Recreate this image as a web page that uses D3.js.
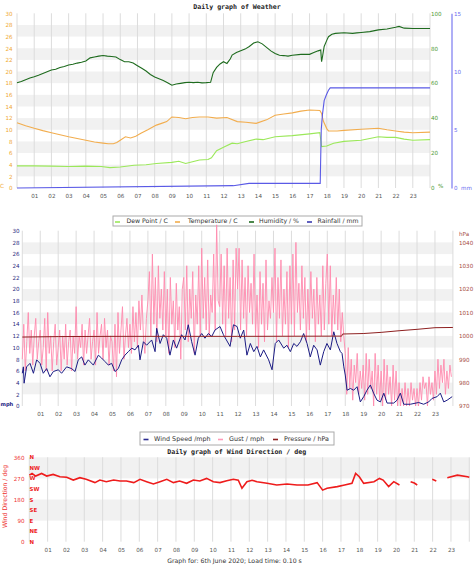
<!DOCTYPE html>
<html><head><meta charset="utf-8">
<script src="https://cdn.jsdelivr.net/npm/d3@7"></script>
<style>body{margin:0;background:#fff}svg{display:block}</style>
</head><body><svg width="474" height="567"></svg>
<script>
// ---------- data ----------
const hourTicks = [1,2,3,4,5,6,7,8,9,10,11,12,13,14,15,16,17,18,19,20,21,22,23];
const hourLabels = ["01","02","03","04","05","06","07","08","09","10","11","12","13","14","15","16","17","18","19","20","21","22","23"];

// Chart 1: weather
const tempTicks = [0,2,4,6,8,10,12,14,16,18,20,22,24,26,28,30];
const humTicks = [0,20,40,60,80,100];
const rainTicks = [0,5,10,15];
const bands30 = [[2,4],[6,8],[10,12],[14,16],[18,20],[22,24],[26,28]];

const humT = [0,0.25,0.5,0.75,1,1.25,1.5,1.75,2,2.25,2.5,2.75,3,3.25,3.5,3.75,4,4.25,4.5,4.75,5,5.25,5.5,5.75,6,6.25,6.5,6.75,7,7.25,7.5,7.75,8,8.25,8.5,8.75,9,9.25,9.5,9.75,10,10.25,10.5,10.75,11,11.25,11.4,11.6,11.8,12,12.2,12.4,12.5,12.75,13,13.25,13.5,13.75,14,14.25,14.5,14.75,15,15.25,15.5,15.75,16,16.5,17,17.25,17.5,17.65,17.7,17.75,17.85,18,18.1,18.3,18.5,19,19.5,19.75,20,20.5,21,21.5,22,22.2,22.5,23,24];
const humV = [60.3,61,62,63,63.7,64.5,65.5,66.5,67.5,68,69,69.5,70.4,70.8,71.5,72,72.7,74.5,75,75.5,75.8,75.5,75.3,75,73.5,72.3,72.3,71.5,70,68.5,67,65,63.5,62.5,61.5,60.3,58.8,59.5,59.9,60.3,60.5,60.3,60.5,60.2,60.3,60.5,66,69,71,72.3,71.3,74,76.1,77.5,78.5,79.5,81,83,83.7,82.5,80.5,78.5,77,76,75.8,75.5,76,76.5,76.5,77.5,78.5,79,72.3,75,81,84.5,86.6,88,88.5,88.9,88.5,88.8,89,89.5,90.5,91,92,92.5,91.5,91.3,91.3];

const tempT = [0,0.5,1,1.5,2,2.5,3,3.5,4,4.5,5,5.3,5.6,5.8,6,6.3,6.6,6.9,7.2,7.6,8.1,8.4,8.7,9,9.4,9.8,10.2,10.6,11.1,11.6,12.2,12.8,13.3,13.9,14.5,15,15.5,16,16.5,17,17.6,17.7,17.8,18,18.1,18.6,19,20,21,21.5,22,22.5,23,24];
const tempV = [11.2,10.7,10.25,9.85,9.5,9.15,8.8,8.5,8.2,7.9,7.7,7.6,7.6,7.8,8.2,8.8,8.6,8.9,9.4,10.0,10.8,11.1,11.4,12.2,12.1,11.9,12.1,12.2,12.2,12.0,12.1,11.4,11.3,11.1,11.7,12.5,12.7,12.9,13.2,13.4,13.3,12.8,11.5,10.2,9.8,9.8,9.9,10.1,10.25,10.0,9.8,9.6,9.5,9.6];

const dewT = [0,1,2,3,4,4.9,5.4,6,6.8,7.5,8.1,9,9.4,9.8,10.2,10.6,11.1,11.3,11.6,12,12.5,12.8,13.3,13.9,14.3,15,16,17,17.6,17.7,18,18.4,19,20,21,21.5,22,22.5,23,24];
const dewV = [3.8,3.8,3.75,3.7,3.75,3.7,3.5,3.6,3.9,4.0,4.2,4.4,4.6,4.2,4.5,4.8,4.9,5.2,6.4,7.0,7.7,7.6,8.0,8.4,8.3,8.8,9.0,9.3,9.5,7.1,7.2,7.7,8.0,8.2,8.8,8.7,8.7,8.4,8.2,8.3];

const rainT = [0,12.57,13.48,17.62,17.68,17.75,17.85,17.98,18.1,18.2,24];
const rainV = [0,0.2,0.4,0.4,5.0,6.3,7.5,8.0,8.4,8.6,8.6];

// Chart 2: wind
const mphTicks = [0,2,4,6,8,10,12,14,16,18,20,22,24,26,28,30];
const hpaTicks = [970,980,990,1000,1010,1020,1030,1040];

const windT = [0,0.06,0.1,0.24,0.43,0.62,0.8,0.99,1.17,1.36,1.54,1.73,2.01,2.19,2.47,2.75,2.94,3.12,3.31,3.49,3.68,3.96,4.24,4.42,4.61,4.8,4.98,5.17,5.35,5.54,5.72,5.91,6.1,6.28,6.47,6.56,6.75,6.93,7.21,7.4,7.49,7.68,7.86,8.05,8.23,8.42,8.6,8.88,9.07,9.25,9.44,9.63,9.81,10.0,10.18,10.37,10.56,10.74,11.02,11.21,11.58,11.77,11.97,12.15,12.34,12.52,12.71,12.9,13.08,13.27,13.45,13.73,13.92,14.1,14.29,14.57,14.75,14.94,15.13,15.31,15.5,15.68,15.87,16.05,16.24,16.43,16.61,16.8,16.98,17.17,17.36,17.54,17.73,17.82,17.92,18.0,18.1,18.29,18.47,18.66,18.84,19.03,19.21,19.4,19.58,19.77,19.96,20.15,20.33,20.7,20.89,21.07,21.26,21.63,22.09,22.37,22.65,22.84,23.12,23.3,23.49,23.68,23.96];
const windV = [5.6,6.7,3.9,6.7,7.3,5.6,7.9,7.3,5.6,6.4,5.0,5.9,6.2,5.6,6.7,6.4,5.9,7.9,8.4,7.0,7.9,7.0,8.7,8.2,7.6,7.0,7.3,5.9,6.4,7.9,8.7,9.3,9.9,9.6,10.4,7.9,11.0,10.4,11.3,9.3,13.3,10.7,12.2,11.6,8.7,11.3,9.9,12.2,11.3,13.9,11.0,8.7,11.6,12.4,11.6,12.4,11.9,13.0,13.6,12.2,10.2,13.9,13.6,11.6,13.0,8.7,10.7,9.3,10.2,8.4,9.6,7.9,6.2,10.7,11.3,9.9,10.4,9.3,10.7,10.2,11.0,12.4,10.7,8.4,10.4,9.6,7.0,9.3,10.7,9.6,12.7,10.7,9.3,9.0,6.7,5.3,2.7,3.0,2.7,3.3,0.7,1.6,2.7,3.6,2.2,1.0,0.7,2.2,0.5,0.5,1.0,2.2,0.3,0.3,0.6,0.3,0.7,1.3,1.6,2.2,0.7,1.0,1.6];

// gusts every 5 minutes (12 per hour), one row per hour
const gustV = [
 8,14,6,11,16,9,13,7,12,15,8,11,
 13,7,10,15,6,16,9,12,6,11,14,7,
 10,13,6,12,8,14,7,11,13,6,12,9,
 17,8,12,10,14,7,13,9,12,15,8,11,
 13,7,16,9,12,14,8,15,10,13,7,12,
 11,6,14,5,16,9,13,17,8,12,15,10,
 14,9,17,11,16,10,18,13,19,12,9,15,
 18,23,12,26,14,22,11,24,15,20,13,23,
 12,20,9,22,14,18,10,21,13,17,8,20,
 22,13,24,11,20,15,23,9,19,14,24,12,
 27,15,22,13,25,12,19,16,26,13,31,18,
 17,26,14,24,12,27,15,22,11,25,13,27,
 20,27,13,25,15,22,12,24,16,21,14,26,
 12,19,10,23,14,21,11,25,13,18,15,22,
 16,27,11,22,15,25,12,20,14,23,10,24,
 14,26,12,28,16,21,13,24,15,22,11,20,
 13,23,15,20,11,22,14,19,12,24,13,21,
 26,14,24,12,19,14,22,13,20,11,16,12,
 9,2,10,3,8,1,7,4,9,2,6,3,
 7,1,9,2,8,3,6,0,9,2,7,1,
 6,0,8,1,7,2,5,0,7,1,6,0,
 4,0,3,0,4,0,3,0,4,1,3,0,
 3,0,4,1,5,3,4,0,5,2,4,1,
 6,2,8,3,7,4,8,2,6,3,7,5];
const gustStepHours = 1/12;

const presT = [0,2,5,8,12,17.8,17.85,19,20,21,22,23,24];
const presV = [999.5,999.7,999.8,999.8,999.8,999.9,1000.8,1001.0,1001.5,1002.2,1002.8,1003.5,1003.6];

// Chart 3: wind direction
const dirTicks = [0,90,180,270,360];
const compassDeg = [0,45,90,135,180,225,270,315,360];
const compassLab = ["N","NE","E","SE","S","SW","W","NW","N"];
const bands360 = [[90,180],[270,360]];
const dirT = [0,0.15,0.35,0.67,0.95,1.3,1.67,2.04,2.4,2.76,3.1,3.58,3.85,4.2,4.6,4.95,5.3,5.7,6.04,6.4,6.77,7.13,7.5,7.86,8.2,8.58,8.95,9.3,9.67,10.04,10.4,10.77,11.13,11.4,11.6,11.87,12.15,12.42,12.97,13.5,14.06,14.6,15.2,15.7,16.0,16.24,16.8,17.2,17.6,17.8,18.0,18.24,18.8,19.1,19.3,19.6,19.88,20.19,20.2,20.8,21.0,21.16,21.2,21.98,22.2,22.25,22.8,23.35,23.9,24];
const dirV = [284,291,280,291,280,287,277,275,263,273,266,252,263,256,263,259,259,252,266,256,246,256,266,252,259,249,263,259,270,256,252,260,266,262,228,256,262,256,249,242,246,242,242,252,220,228,235,242,249,291,277,249,256,270,263,235,256,242,null,256,250,242,null,266,259,null,273,284,277,275];

// ---------- drawing ----------
const svg = d3.select("svg");
const FONT = "DejaVu Sans, sans-serif";
const MONO = "DejaVu Sans Mono, monospace";
const TICK = 5.6;

function grid(x, y, bands, y0, y1) {
  const g = svg.append("g");
  bands.forEach(b => g.append("rect")
    .attr("x", x(0)).attr("width", x(24) - x(0))
    .attr("y", y(b[1])).attr("height", y(b[0]) - y(b[1]))
    .attr("fill", "#f1f1f1"));
  for (let h = 0; h <= 24; h++) {
    g.append("line").attr("x1", x(h)).attr("x2", x(h))
      .attr("y1", y0).attr("y2", y1)
      .attr("stroke", "#dcdcdc").attr("stroke-width", 1);
  }
}
function xAxis(x, yPos) {
  const a = svg.append("g").attr("transform", `translate(0,${yPos})`)
    .call(d3.axisBottom(x).tickValues(hourTicks).tickFormat((d, i) => hourLabels[i]).tickSize(0).tickPadding(0));
  a.select(".domain").remove();
  a.attr("font-family", FONT).attr("font-size", TICK);
  a.selectAll("text").attr("fill", "#555").attr("dy", "0.71em");
}
function yAxis(scale, ticks, xPos, color, side, fmt) {
  const ax = side === "left" ? d3.axisLeft(scale) : d3.axisRight(scale);
  const a = svg.append("g").attr("transform", `translate(${xPos},0)`)
    .call(ax.tickValues(ticks).tickSize(0).tickPadding(0).tickFormat(fmt || (d => d)));
  a.select(".domain").remove();
  a.attr("font-family", FONT).attr("font-size", TICK);
  a.selectAll("text").attr("fill", color);
  return a;
}
function txt(x, y, s, opts) {
  const t = svg.append("text").attr("x", x).attr("y", y).text(s)
    .attr("font-family", opts.family || FONT).attr("font-size", opts.size || TICK)
    .attr("fill", opts.fill || "#333").attr("text-anchor", opts.anchor || "start");
  if (opts.weight) t.attr("font-weight", opts.weight);
  return t;
}
function legend(x0, y0, w, h, items, size) {
  svg.append("rect").attr("x", x0).attr("y", y0).attr("width", w).attr("height", h)
    .attr("fill", "#fff").attr("stroke", "#aaa").attr("stroke-width", 1);
  items.forEach(it => {
    svg.append("line").attr("x1", it.sx).attr("x2", it.sx + 5)
      .attr("y1", y0 + h / 2 + 1).attr("y2", y0 + h / 2 + 1)
      .attr("stroke", it.color).attr("stroke-width", 1.6);
    txt(it.tx, y0 + h / 2 + size * 0.36, it.label, {size: size, fill: "#333"});
  });
}
const pts = (T, V) => T.map((t, i) => [t, V[i]]);

// ===== Chart 1 =====
const x1 = d3.scaleLinear().domain([0, 24]).range([17, 430]);
const yT = d3.scaleLinear().domain([0, 30]).range([188, 13.3]);
const yH = d3.scaleLinear().domain([0, 100]).range([188, 13.3]);
const yR = d3.scaleLinear().domain([0, 15]).range([188, 13.3]);
grid(x1, yT, bands30, 13.3, 188);
txt(237, 9, "Daily graph of Weather", {family: MONO, size: 6.6, weight: "bold", anchor: "middle", fill: "#222"});

svg.append("path").attr("fill", "none").attr("stroke", "#9be85a").attr("stroke-width", 1.1)
  .attr("d", d3.line().x(d => x1(d[0])).y(d => yT(d[1]))(pts(dewT, dewV)));
svg.append("path").attr("fill", "none").attr("stroke", "#f2ad4e").attr("stroke-width", 1.1)
  .attr("d", d3.line().x(d => x1(d[0])).y(d => yT(d[1]))(pts(tempT, tempV)));
svg.append("path").attr("fill", "none").attr("stroke", "#1e6b1e").attr("stroke-width", 1.1)
  .attr("d", d3.line().x(d => x1(d[0])).y(d => yH(d[1]))(pts(humT, humV)));
svg.append("path").attr("fill", "none").attr("stroke", "#5a5ae6").attr("stroke-width", 1.1)
  .attr("d", d3.line().x(d => x1(d[0])).y(d => yR(d[1]))(pts(rainT, rainV)));

xAxis(x1, 194.5);
yAxis(yT, tempTicks, 12.5, "#f0a830", "left");
yAxis(yH, humTicks, 431, "#4e9a35", "right");
const ra = svg.append("g").attr("transform", "translate(451.5,0)")
  .call(d3.axisRight(yR).tickValues(rainTicks).tickSize(0).tickSizeOuter(0).tickPadding(2.5));
ra.attr("font-family", FONT).attr("font-size", TICK);
ra.select(".domain").attr("stroke", "#7a7af0").attr("stroke-width", 1.2);
ra.selectAll("text").attr("fill", "#6a6af0");
txt(0, 188, "C", {fill: "#f0a830", size: 5.6});
txt(438, 188, "%", {fill: "#4e9a35", size: 5.6});
txt(461, 190, "mm", {fill: "#6a6af0", size: 5.6});

legend(113, 216, 249, 10, [
  {sx: 115, tx: 126.5, label: "Dew Point / C", color: "#9be85a"},
  {sx: 175, tx: 188, label: "Temperature / C", color: "#f2ad4e"},
  {sx: 249, tx: 259, label: "Humidity / %", color: "#1e6b1e"},
  {sx: 307, tx: 317.5, label: "Rainfall / mm", color: "#3a3ab0"}
], 6.2);

// ===== Chart 2 =====
const x2 = d3.scaleLinear().domain([0, 24]).range([22.3, 452.9]);
const yW = d3.scaleLinear().domain([0, 30]).range([406, 230.7]);
const yP = d3.scaleLinear().domain([970, 1045]).range([406, 230.7]);
grid(x2, yW, bands30, 230.7, 406);

svg.append("path").attr("fill", "none").attr("stroke", "#ff8aae").attr("stroke-width", 0.9)
  .attr("d", d3.line().x((d, i) => x2(i * gustStepHours)).y(d => yW(d))(gustV));
svg.append("path").attr("fill", "none").attr("stroke", "#1c1c84").attr("stroke-width", 1)
  .attr("d", d3.line().x(d => x2(d[0])).y(d => yW(d[1]))(pts(windT, windV)));
svg.append("path").attr("fill", "none").attr("stroke", "#8e2020").attr("stroke-width", 1)
  .attr("d", d3.line().x(d => x2(d[0])).y(d => yP(d[1]))(pts(presT, presV)));

xAxis(x2, 412.5);
yAxis(yW, mphTicks, 19.5, "#2b2b80", "left");
yAxis(yP, hpaTicks, 459, "#a64a42", "right");
txt(459, 236, "hPa", {fill: "#a64a42", size: 5.6});
txt(0.5, 405.5, "mph", {fill: "#1c1c84", size: 5.2, weight: "bold"});

legend(140, 432, 194, 13, [
  {sx: 143.5, tx: 154, label: "Wind Speed /mph", color: "#2b2b90"},
  {sx: 218, tx: 229, label: "Gust / mph", color: "#ff9ab8"},
  {sx: 273, tx: 284, label: "Pressure / hPa", color: "#8e2020"}
], 6.4);

// ===== Chart 3 =====
const x3 = d3.scaleLinear().domain([0, 24]).range([29.3, 469.3]);
const yD = d3.scaleLinear().domain([0, 360]).range([541.7, 457.3]);
grid(x3, yD, bands360, 457.3, 541.7);
txt(236.7, 454, "Daily graph of Wind Direction / deg", {family: MONO, size: 6.6, weight: "bold", anchor: "middle", fill: "#222"});

svg.append("path").attr("fill", "none").attr("stroke", "#ee1c1c").attr("stroke-width", 1.6)
  .attr("d", d3.line().defined(d => d[1] !== null).x(d => x3(d[0])).y(d => yD(d[1]))(pts(dirT, dirV)));

xAxis(x3, 548.5);
yAxis(yD, dirTicks, 24.5, "#ee3030", "left");
compassDeg.forEach((d, i) => {
  txt(29.6, yD(d) + 2, compassLab[i], {fill: "#ee1c1c", size: 5.4, weight: "bold"});
});
svg.append("text").attr("transform", "translate(7,496.5) rotate(-90)")
  .attr("text-anchor", "middle").attr("font-family", FONT).attr("font-size", 6.2)
  .attr("fill", "#ee3030").text("Wind Direction / deg");

txt(234.5, 562.8, "Graph for: 6th June 2020; Load time: 0.10 s", {size: 6.2, anchor: "middle", fill: "#333"});
</script>
</body></html>
